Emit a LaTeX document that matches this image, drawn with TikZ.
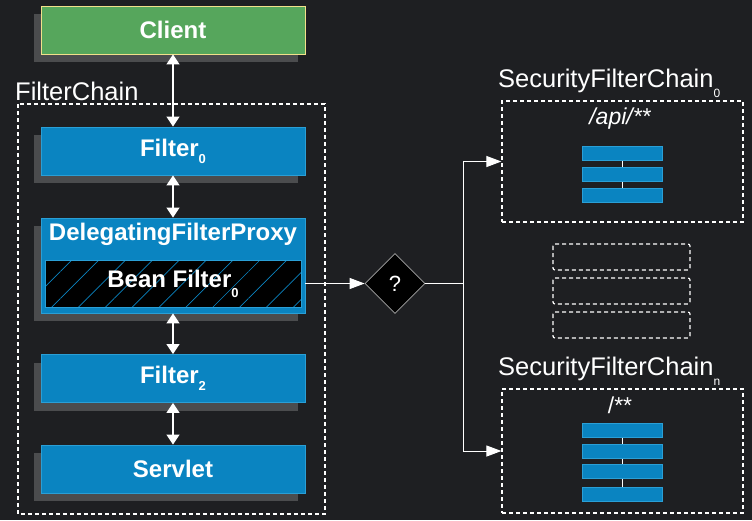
\documentclass[tikz,border=0pt]{standalone}
\usepackage{fontspec}
\setmainfont{Liberation Sans}
\usetikzlibrary{arrows.meta,shapes.geometric,shadows,patterns.meta}

\definecolor{bg}{HTML}{1E1F22}
\definecolor{springblue}{HTML}{0A84C1}
\definecolor{edgeblue}{HTML}{2A9FD6}
\definecolor{clientgreen}{HTML}{56A65C}
\definecolor{clientedge}{HTML}{F2E08A}
\definecolor{shade}{HTML}{4B4C4E}

\newcommand\idx[3][7pt]{\raisebox{-#1}{\fontsize{#2}{#2}\selectfont #3}}

\tikzset{
	big/.style={text=white,font=\fontsize{25.5}{29}\selectfont},
	block/.style={draw=edgeblue,fill=springblue,line width=0.8pt,minimum width=264pt,minimum height=48pt,inner sep=0pt,
		text=white,font=\bfseries\fontsize{24}{28}\selectfont,
		drop shadow={shadow xshift=-7pt,shadow yshift=-8pt,fill=shade,opacity=1}},
	chain/.style={draw=white,dash pattern=on 4pt off 3pt,line width=1.2pt},
	both/.style={white,line width=1.2pt,{Triangle[length=10pt,width=13pt]}-{Triangle[length=10pt,width=13pt]}},
	route/.style={white,line width=1pt,-{Triangle[length=15pt,width=11pt]}},
	bar/.style={fill=springblue,draw=edgeblue,line width=0.5pt}
}

\begin{document}
\begin{tikzpicture}[x=1pt,y=-1pt]
	\fill[bg] (0,0) rectangle (752,520);

	\draw[chain] (18,104) rectangle (325,514);
	\node[anchor=base west,big,inner xsep=0pt] (chainlabel) at (15,100) {FilterChain};

	\node[block,fill=clientgreen,draw=clientedge] (client) at (173,30) {Client};
	\node[block] (filter0) at (173,151) {Filter\idx{13}{0}};
	\node[block,minimum height=95pt] (dfp) at (173,265.5) {};
	\node[anchor=base,text=white,font=\bfseries\fontsize{24}{28}\selectfont] (dfplabel) at (173,240) {DelegatingFilterProxy};
	\node[draw=edgeblue,line width=0.8pt,minimum width=256pt,minimum height=47pt,inner sep=0pt,preaction={fill=black},
		pattern={Lines[angle=45,distance=19pt,line width=0.7pt]},pattern color=springblue,
		text=white,font=\bfseries\fontsize{24}{28}\selectfont] (bean) at (173,283.5) {Bean Filter\idx[10pt]{13}{0}};
	\node[block] (filter2) at (173,378.5) {Filter\idx{13}{2}};
	\node[block] (servlet) at (173,469) {Servlet};

	\draw[both] (client) -- (filter0);
	\draw[both] (filter0) -- (dfp);
	\draw[both] (dfp) -- (filter2);
	\draw[both] (filter2) -- (servlet);

	\node[diamond,draw=gray!70,fill=black,line width=0.8pt,minimum width=60pt,minimum height=60pt,inner sep=0pt,
		text=white,font=\fontsize{22}{26}\selectfont] (decide) at (395,283.5) {?};
	\coordinate (split) at (463,283.5);
	\draw[route] (bean.east -| dfp.east) -- (decide);

	\node[chain,minimum width=241pt,minimum height=121pt] (sfc0) at (622.5,161.5) {};
	\node[anchor=base west,big,inner xsep=0pt] (sfc0label) at (498,87) {SecurityFilterChain\idx[10pt]{12}{0}};
	\node[text=white,font=\itshape\fontsize{23}{27}\selectfont] (api) at (620,119) {/api/**};
	\draw[white,line width=0.8pt] (622,150) -- (622,198);
	\foreach \y in {146,167,188}
		\draw[bar] (582,\y) rectangle ++(80,14);

	\foreach \y in {244,278,312}
		\draw[chain,rounded corners=2pt] (553,\y) rectangle ++(137,26);

	\node[chain,minimum width=241pt,minimum height=124pt] (sfcn) at (622.5,451) {};
	\node[anchor=base west,big,inner xsep=0pt] (sfcnlabel) at (498,375) {SecurityFilterChain\idx[10pt]{12}{n}};
	\node[text=white,font=\fontsize{23}{27}\selectfont] (catchall) at (620,405) {/**};
	\draw[white,line width=0.8pt] (622,428) -- (622,496);
	\foreach \y in {423,444,464,487}
		\draw[bar] (582,\y) rectangle ++(80,14);

	\draw[white,line width=1pt] (decide) -- (split);
	\draw[route] (split) |- (sfc0);
	\draw[route] (split) |- (sfcn);
\end{tikzpicture}
\end{document}
